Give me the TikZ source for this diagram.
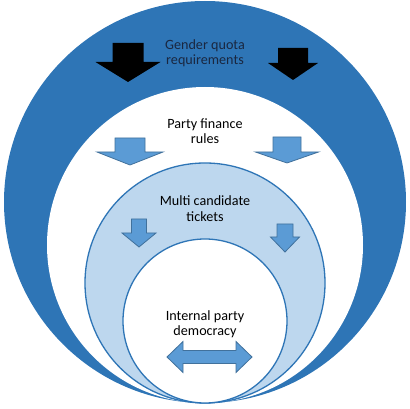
\documentclass[tikz,border=0pt]{standalone}
\usepackage{fontspec}
\setmainfont{Carlito}
\definecolor{ringblue}{HTML}{2E75B6}
\definecolor{paleblue}{HTML}{BDD7EE}
\definecolor{arrowblue}{HTML}{5B9BD5}
\definecolor{edgeblue}{HTML}{41719C}
\definecolor{navytext}{HTML}{1A2740}
\begin{document}
\begin{tikzpicture}[x=1bp,y=1bp,
  label/.style={align=center,font=\fontsize{14.2}{15.5}\selectfont,text=black,inner sep=0pt},
  flatarrow/.style={fill=arrowblue,draw=edgeblue,line width=0.8bp,line join=miter}]

% frame
\useasboundingbox (0,0) rectangle (410,409);

% rings
\fill[ringblue] (205,207) circle (201);
\fill[white] (205,164) circle (158);
\filldraw[fill=paleblue,draw=ringblue,line width=1.3bp] (205,126) circle (120);
\filldraw[fill=white,draw=ringblue,line width=1.3bp] (205,88) circle (82);

% down arrows: centre/shaft/head/top/neck/tip
\foreach \c/\s/\h/\t/\m/\b in {128/15.5/32.5/366/347/327, 293/15/25/361/346/329}
  \fill[black] (\c-\s,\t) -- (\c+\s,\t) -- (\c+\s,\m) -- (\c+\h,\m) -- (\c,\b)
    -- (\c-\h,\m) -- (\c-\s,\m) -- cycle;
\foreach \c/\s/\h/\t/\m/\b in {130/15/33/271/257/244, 287/14/31.5/272/257/246,
    139/7.5/17/190/176/162, 285/8/14.5/185/172/157}
  \draw[flatarrow] (\c-\s,\t) -- (\c+\s,\t) -- (\c+\s,\m) -- (\c+\h,\m) -- (\c,\b)
    -- (\c-\h,\m) -- (\c-\s,\m) -- cycle;

% both ways arrow
\draw[flatarrow] (167,52) -- (183,67.5) -- (183,58.5) -- (236,58.5) -- (236,67.5)
  -- (252,52) -- (236,36.5) -- (236,45.5) -- (183,45.5) -- (183,36.5) -- cycle;

% labels
\node[label,text=navytext] (gender) at (205,356) {Gender quota\\requirements};
\node[label] (finance) at (205,278) {Party finance\\rules};
\node[label] (tickets) at (205,200.5) {Multi candidate\\tickets};
\node[label] (democracy) at (205,84.5) {Internal party\\democracy};
\end{tikzpicture}
\end{document}
